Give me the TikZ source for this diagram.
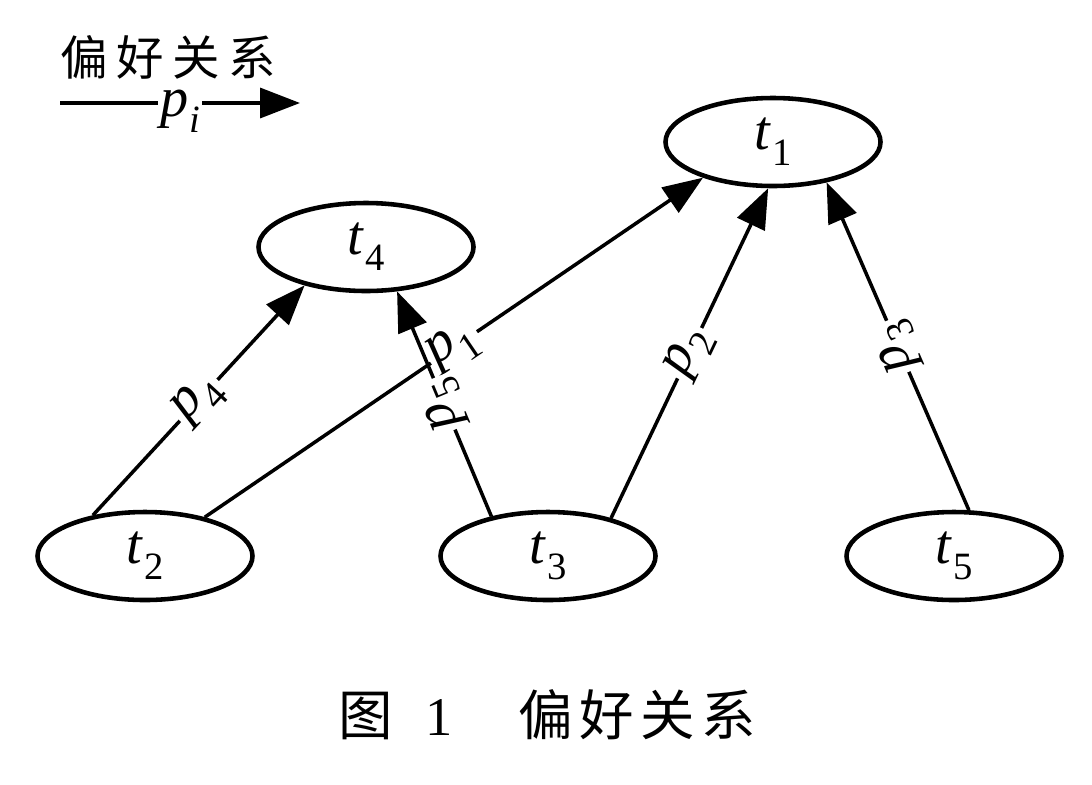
\documentclass[tikz,border=0pt]{standalone}
\usepackage{fontspec}
\setmainfont{Liberation Serif}
\newfontfamily\cjk[LetterSpace=18]{Noto Sans CJK SC}
\newfontfamily\cjkcap[LetterSpace=12]{Noto Sans CJK SC}
\usepackage{tikz}
\usetikzlibrary{shapes,arrows.meta}

% task label with a small lowered index
\newcommand{\tsub}[2]{\textit{#1}\kern0.3pt\raisebox{-0.28em}{\fontsize{11}{11}\selectfont #2}}

\begin{document}
\begin{tikzpicture}[>={Triangle[length=4mm,width=3mm]},
		task/.style={draw, ellipse, line width=1.3pt, minimum width=2.15cm, minimum height=0.88cm, inner sep=0pt, font=\fontsize{16}{16}\selectfont},
		pref/.style={->, line width=1pt},
		plabel/.style={midway, sloped, allow upside down, fill=white, inner sep=1pt, font=\fontsize{16}{16}\selectfont}]
		\useasboundingbox (0,0) rectangle (10.92,7.84);

		% Legend
		\node (legtxt) at (1.68cm,7.27cm) {\fontsize{13.5}{13.5}\selectfont\cjk 偏好关系};
		\coordinate (legA) at (0.60cm,6.81cm);
		\coordinate (legB) at (3.00cm,6.81cm);
		\draw [pref] (legA) -- node[plabel, yshift=-0.08cm, inner sep=0.5pt] {\tsub{p}{\textit{i}}} (legB);

		% Tasks
		\node [task] (t1) at (7.73cm,6.42cm) {\tsub{t}{1}};
		\node [task] (t4) at (3.66cm,5.37cm) {\tsub{t}{4}};
		\node [task] (t2) at (1.45cm,2.28cm) {\tsub{t}{2}};
		\node [task] (t3) at (5.48cm,2.28cm) {\tsub{t}{3}};
		\node [task] (t5) at (9.54cm,2.28cm) {\tsub{t}{5}};

		% Preferences
		\draw [pref] (t2.142) -- node[plabel] {\tsub{p}{4}} (t4.212);
		\draw [pref] (t2.33) -- node[plabel] {\tsub{p}{1}} (t1.207);
		\draw [pref] (t3.145) -- node[plabel] {\tsub{p}{5}} (t4.305);
		\draw [pref] (t3.31) -- node[plabel] {\tsub{p}{2}} (t1.264);
		\draw [pref] (t5.72) -- node[plabel] {\tsub{p}{3}} (t1.323);

		% Caption
		\node (caption) at (5.47cm,0.69cm) {\fontsize{15.5}{15.5}\selectfont{\cjkcap 图}\hspace{0.6em}1\hspace{1.2em}{\cjkcap 偏好关系}};
	\end{tikzpicture}
\end{document}
